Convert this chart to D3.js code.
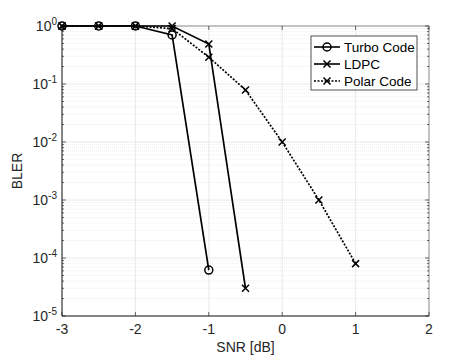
<!DOCTYPE html>
<html><head><meta charset="utf-8">
<script src="https://cdn.jsdelivr.net/npm/d3@7"></script>
<style>body{margin:0;background:#fff}svg{display:block}text{font-family:"Liberation Sans",Arial,sans-serif}</style>
</head><body><svg id="c" width="474" height="355"></svg>
<script>
const snr = [-3, -2.5, -2, -1.5, -1, -0.5, 0, 0.5, 1];
const turbo = [1, 1, 1, 0.7, 6.2e-5];
const ldpc = [1, 1, 1, 1, 0.49, 3e-5];
const polar = [1, 1, 1, 0.9, 0.29, 0.079, 0.01, 0.001, 8e-5];
const xTicks = [-3, -2, -1, 0, 1, 2];
const yExps = [0, -1, -2, -3, -4, -5];
const seriesNames = ["Turbo Code", "LDPC", "Polar Code"];

const svg = d3.select("#c");
const L = 62, R = 429, T = 26, B = 316;
const x = d3.scaleLinear().domain([-3, 2]).range([L, R]);
const y = d3.scaleLog().domain([1e-5, 1]).range([B, T]);
const axisCol = "#262626";

// grid
const g = svg.append("g");
const minor = [];
for (let e = -5; e < 0; e++) for (let m = 2; m <= 9; m++) minor.push(m * Math.pow(10, e));
g.selectAll(".mn").data(minor).enter().append("line")
  .attr("x1", L).attr("x2", R).attr("y1", d => y(d)).attr("y2", d => y(d))
  .attr("stroke", "#e2e2e2").attr("stroke-width", 0.6).attr("stroke-dasharray", "1,1");
g.selectAll(".mjy").data(yExps).enter().append("line")
  .attr("x1", L).attr("x2", R).attr("y1", d => y(Math.pow(10, d))).attr("y2", d => y(Math.pow(10, d)))
  .attr("stroke", "#e4e4e4").attr("stroke-width", 0.8);
g.selectAll(".mjx").data(xTicks).enter().append("line")
  .attr("y1", T).attr("y2", B).attr("x1", d => x(d)).attr("x2", d => x(d))
  .attr("stroke", "#e4e4e4").attr("stroke-width", 0.8);

// box
svg.append("rect").attr("x", L).attr("y", T).attr("width", R - L).attr("height", B - T)
  .attr("fill", "none").attr("stroke", "#7a7a7a").attr("stroke-width", 0.8);
svg.append("line").attr("x1", L).attr("x2", L).attr("y1", T).attr("y2", B).attr("stroke", axisCol).attr("stroke-width", 0.8);
svg.append("line").attr("x1", L).attr("x2", R).attr("y1", B).attr("y2", B).attr("stroke", axisCol).attr("stroke-width", 0.8);

// ticks (inward)
const tk = svg.append("g").attr("stroke", axisCol).attr("stroke-width", 0.7);
xTicks.forEach(v => {
  tk.append("line").attr("x1", x(v)).attr("x2", x(v)).attr("y1", B).attr("y2", B - 4);
  tk.append("line").attr("x1", x(v)).attr("x2", x(v)).attr("y1", T).attr("y2", T + 4);
});
yExps.forEach(e => {
  const yy = y(Math.pow(10, e));
  tk.append("line").attr("x1", L).attr("x2", L + 4).attr("y1", yy).attr("y2", yy);
  tk.append("line").attr("x1", R).attr("x2", R - 4).attr("y1", yy).attr("y2", yy);
});
minor.forEach(v => {
  const yy = y(v);
  tk.append("line").attr("x1", L).attr("x2", L + 2).attr("y1", yy).attr("y2", yy);
  tk.append("line").attr("x1", R).attr("x2", R - 2).attr("y1", yy).attr("y2", yy);
});

// tick labels
svg.selectAll(".xl").data(xTicks).enter().append("text")
  .attr("x", d => x(d)).attr("y", B + 18).attr("text-anchor", "middle")
  .attr("font-size", 14).attr("fill", axisCol).text(d => d);
yExps.forEach(e => {
  const t = svg.append("text").attr("x", L - 5).attr("y", y(Math.pow(10, e)) + 5)
    .attr("text-anchor", "end").attr("font-size", 14).attr("fill", axisCol);
  t.append("tspan").text("10");
  t.append("tspan").attr("dy", -6).attr("font-size", 10).text(e);
});

svg.append("text").attr("x", (L + R) / 2).attr("y", 352).attr("text-anchor", "middle")
  .attr("font-size", 14).attr("fill", axisCol).text("SNR [dB]");
svg.append("text").attr("transform", `translate(22,${(T + B) / 2}) rotate(-90)`)
  .attr("text-anchor", "middle").attr("font-size", 14).attr("fill", axisCol).text("BLER");

// lines
const line = d3.line().x(d => x(d[0])).y(d => y(d[1]));
function pts(vals) { return vals.map((v, i) => [snr[i], v]); }
const data = [pts(turbo), pts(ldpc), pts(polar)];
const dashes = [null, null, "2,1.5"];
const marks = ["o", "x", "x"];
data.forEach((d, i) => {
  svg.append("path").datum(d).attr("d", line).attr("fill", "none")
    .attr("stroke", "#000").attr("stroke-width", 1.7).attr("stroke-dasharray", dashes[i]);
});
function marker(sel, type, cx, cy) {
  if (type === "o") sel.append("circle").attr("cx", cx).attr("cy", cy).attr("r", 4)
    .attr("fill", "none").attr("stroke", "#000").attr("stroke-width", 1.5);
  else sel.append("path").attr("d", `M${cx-3.5},${cy-3.5}L${cx+3.5},${cy+3.5}M${cx-3.5},${cy+3.5}L${cx+3.5},${cy-3.5}`)
    .attr("stroke", "#000").attr("stroke-width", 1.5);
}
[2, 1, 0].forEach(i => data[i].forEach(p => marker(svg, marks[i], x(p[0]), y(p[1]))));

// legend
const lg = svg.append("g");
lg.append("rect").attr("x", 311).attr("y", 36).attr("width", 106).attr("height", 54)
  .attr("fill", "#fff").attr("stroke", "#262626").attr("stroke-width", 0.8);
seriesNames.forEach((n, i) => {
  const yy = 47 + i * 17;
  lg.append("line").attr("x1", 314).attr("x2", 340).attr("y1", yy).attr("y2", yy)
    .attr("stroke", "#000").attr("stroke-width", 1.6).attr("stroke-dasharray", dashes[i]);
  marker(lg, marks[i], 327, yy);
  lg.append("text").attr("x", 344).attr("y", yy + 5).attr("font-size", 13.5).attr("fill", "#000").text(n);
});
</script></body></html>
